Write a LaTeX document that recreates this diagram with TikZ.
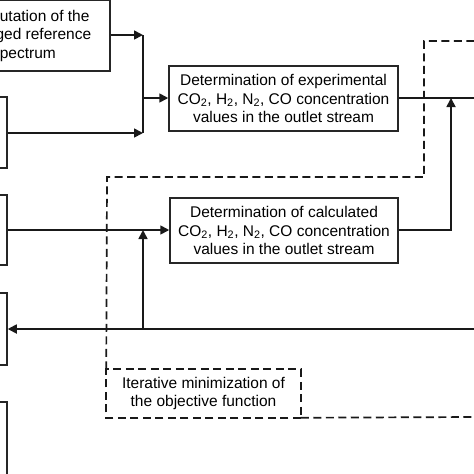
\documentclass[tikz,border=0pt]{standalone}
\usepackage{fontspec}
\setmainfont{Liberation Sans}
\usetikzlibrary{arrows.meta}
\tikzset{
  box/.style={draw=black!85, line width=1.5pt, rectangle, inner sep=0pt, align=center,
    font=\fontsize{15.5}{18.5}\selectfont},
  conn/.style={line width=1.7pt, draw=black!90},
  arr/.style={conn, -{Triangle[length=9pt,width=9pt]}},
  dsh/.style={line width=1.7pt, draw=black!90, dash pattern=on 8pt off 4.5pt},
}
\begin{document}
\begin{tikzpicture}[x=1pt,y=-1pt]
\useasboundingbox (0,0) rectangle (474,474);
\clip (0,0) rectangle (474,474);
% boxes
\node[box, minimum width=172pt, minimum height=71pt] (comp) at (24,35.5)
  {Computation of the\\averaged reference\\spectrum};
\node[box, minimum width=70pt, minimum height=71pt] (L2) at (-28,132.5) {};
\node[box, minimum width=70pt, minimum height=70pt] (L3) at (-28,230) {};
\node[box, minimum width=70pt, minimum height=72pt] (L4) at (-28,329) {};
\node[box, minimum width=70pt, minimum height=90pt] (L5) at (-28,447) {};
\node[box, minimum width=229pt, minimum height=65pt] (exp) at (283.5,98.5)
  {Determination of experimental\\CO\textsubscript{2}, H\textsubscript{2}, N\textsubscript{2}, CO concentration\\values in the outlet stream};
\node[box, minimum width=228pt, minimum height=65pt] (calc) at (284,230.5)
  {Determination of calculated\\CO\textsubscript{2}, H\textsubscript{2}, N\textsubscript{2}, CO concentration\\values in the outlet stream};
\node[box, draw=none, minimum width=193pt, minimum height=47pt] (iter) at (203.5,393.5)
  {Iterative minimization of\\the objective function};
% coordinates
\coordinate (jt) at (143,35);
\coordinate (jb) at (143,133);
\coordinate (jm) at (143,98);
\coordinate (outR) at (474,98);
\coordinate (cr) at (451,230);
\coordinate (cu) at (451,98);
\coordinate (fbR) at (474,329);
\coordinate (fbJ) at (143,329);
\coordinate (fbU) at (143,230);
\coordinate (d1) at (107,177);
\coordinate (d2) at (424,177);
\coordinate (d3) at (424,41);
\coordinate (d4) at (474,41);
\coordinate (d5) at (474,417);
% connectors
\draw[arr] (comp.east |- jt) -- (jt);
\draw[arr] (L2.east |- jb) -- (jb);
\draw[conn] (jt) -- (jb);
\draw[arr] (jm) -- (exp.west |- jm);
\draw[conn] (exp.east |- outR) -- (outR);
\draw[arr] (calc.east |- cr) -- (cr) -- (cu);
\draw[arr] (L3.east |- fbU) -- (calc.west |- fbU);
\draw[arr] (fbR) -- (L4.east |- fbR);
\draw[arr] (fbJ) -- (fbU);
% dashed frame
\draw[dsh] (iter.south east) -- (iter.south west) -- (iter.north west) -- (iter.north east) -- cycle;
\draw[dsh] (iter.north west) -- (d1) -- (d2) -- (d3) -- (d4);
\draw[dsh] (iter.south east) -- (d5);
\end{tikzpicture}
\end{document}
